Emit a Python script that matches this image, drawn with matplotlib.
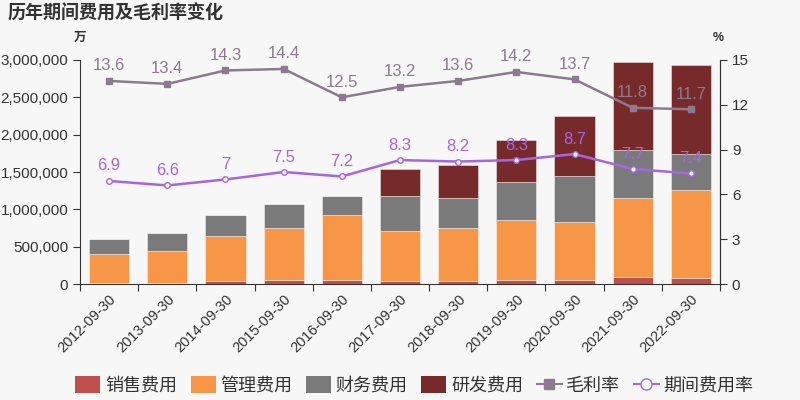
import numpy as np
import matplotlib
matplotlib.use("Agg")
import matplotlib.pyplot as plt
import matplotlib.patches as mpatches
from matplotlib.lines import Line2D
from matplotlib.ticker import FuncFormatter, MultipleLocator

plt.rcParams['font.family'] = ['Liberation Sans', 'Noto Sans CJK SC', 'DejaVu Sans']

# ============= DATA =============
dates = ['2012-09-30', '2013-09-30', '2014-09-30', '2015-09-30', '2016-09-30', '2017-09-30',
         '2018-09-30', '2019-09-30', '2020-09-30', '2021-09-30', '2022-09-30']
# expenses, unit: 万
sales_exp = [8000, 12000, 44000, 50000, 50000, 44000, 44000, 58000, 58000, 90000, 80000]
admin_exp = [394000, 430000, 599000, 704000, 878000, 661000, 710000, 795000, 777000, 1062000, 1183000]
fin_exp = [198000, 245000, 277000, 317000, 250000, 478000, 393000, 509000, 607000, 643000, 474000]
rd_exp = [0, 0, 0, 0, 0, 357000, 443000, 562000, 804000, 1178000, 1196000]
# rates, unit: %
gross_margin = [13.6, 13.4, 14.3, 14.4, 12.5, 13.2, 13.6, 14.2, 13.7, 11.8, 11.7]
expense_rate = [6.9, 6.6, 7, 7.5, 7.2, 8.3, 8.2, 8.3, 8.7, 7.7, 7.4]

series_names = ['销售费用', '管理费用', '财务费用', '研发费用']
bar_colors = ['#c0504d', '#f79646', '#7a7a7a', '#772a2a']
gm_color = '#8c7b8e'
er_color = '#a765e6'
bg = '#f7f7f7'
txt = '#333333'

fig = plt.figure(figsize=(8, 4), dpi=100, facecolor=bg)
ax = fig.add_axes([0.10, 0.29, 0.80, 0.56])
ax.set_facecolor(bg)
ax2 = ax.twinx()

x = np.arange(len(dates))
bottom = np.zeros(len(dates))
for vals, col in zip([sales_exp, admin_exp, fin_exp, rd_exp], bar_colors):
    ax.bar(x, vals, bottom=bottom, width=0.69, color=col, edgecolor='#ffffff80', linewidth=0.6, zorder=2)
    bottom += np.array(vals)

ax.set_xlim(-0.5, len(dates) - 0.5)
ax.set_ylim(0, 3000000)
ax.yaxis.set_major_locator(MultipleLocator(500000))
ax.yaxis.set_major_formatter(FuncFormatter(lambda v, p: f'{int(v):,}'))
ax.set_xticks(np.arange(len(dates) + 1) - 0.5, minor=False)
ax.set_xticklabels([])
ax.set_xticks(x, minor=True)
ax.set_xticklabels(dates, minor=True, rotation=45, ha='right', rotation_mode='anchor', fontsize=10.5, color=txt)
ax.tick_params(axis='x', which='minor', length=0, pad=6)
ax.tick_params(axis='x', which='major', length=5, color=txt)
ax.tick_params(axis='y', labelsize=11, colors=txt, length=5)

ax2.plot(x, gross_margin, color=gm_color, linewidth=1.8, marker='s', markersize=4, zorder=3)
ax2.plot(x, expense_rate, color=er_color, linewidth=1.8, marker='o', markersize=4,
         markerfacecolor='white', markeredgecolor=er_color, zorder=3)
for xi, v in zip(x, gross_margin):
    ax2.text(xi, v + 0.5, f'{v:g}', ha='center', va='bottom', fontsize=12, color=gm_color)
for xi, v in zip(x, expense_rate):
    ax2.text(xi, v + 0.5, f'{v:g}', ha='center', va='bottom', fontsize=12, color=er_color)
ax2.set_ylim(0, 15)
ax2.yaxis.set_major_locator(MultipleLocator(3))
ax2.tick_params(axis='y', labelsize=11, colors=txt, length=5)

for a in (ax, ax2):
    a.spines['top'].set_visible(False)
    a.spines['left'].set_color(txt)
    a.spines['right'].set_color(txt)
    a.spines['bottom'].set_color(txt)
ax2.spines['left'].set_visible(False)
ax2.spines['bottom'].set_visible(False)

fig.text(0.01, 0.965, '历年期间费用及毛利率变化', fontsize=13, fontweight='bold', color=txt,
         ha='left', va='center')
fig.text(0.10, 0.905, '万', fontsize=9, fontweight='bold', color=txt, ha='center', va='center')
fig.text(0.898, 0.905, '%', fontsize=9, fontweight='bold', color=txt, ha='center', va='center')

handles = [mpatches.Patch(facecolor=c, label=n) for c, n in zip(bar_colors, series_names)]
handles.append(Line2D([], [], color=gm_color, marker='s', markersize=7, linewidth=1.5, label='毛利率'))
handles.append(Line2D([], [], color=er_color, marker='o', markersize=8, linewidth=1.5,
                      markerfacecolor='white', label='期间费用率'))
leg = fig.legend(handles=handles, loc='center', bbox_to_anchor=(0.518, 0.036), ncol=6, frameon=False,
                 fontsize=13, handlelength=1.4, handleheight=1.0, handletextpad=0.25, columnspacing=0.75)
for t in leg.get_texts():
    t.set_color(txt)

fig.savefig('out.png', dpi=100, facecolor=bg)
